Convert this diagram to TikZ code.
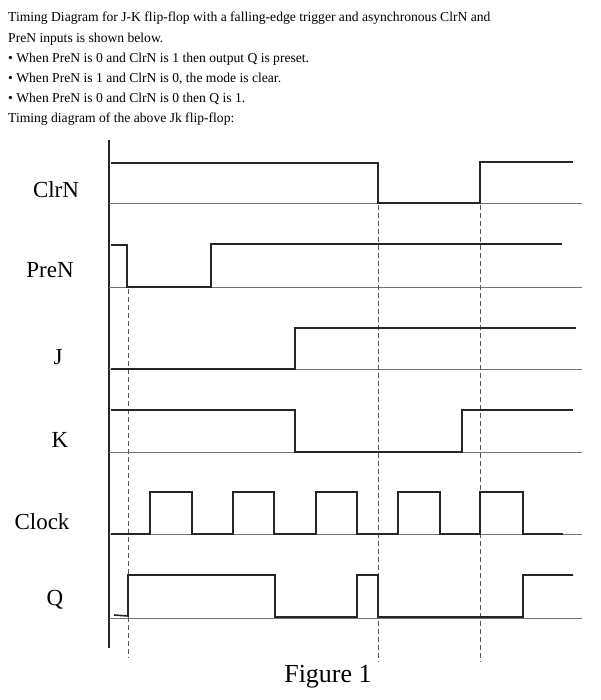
\documentclass[tikz,border=0pt]{standalone}
\usepackage{fontspec}
\setmainfont{Liberation Serif}
\begin{document}
\begin{tikzpicture}[x=1pt,y=-1pt,
  txt/.style={anchor=west,inner sep=0pt,font=\fontsize{13.6}{15}\selectfont},
  lbl/.style={inner sep=0pt,font=\fontsize{23}{26}\selectfont},
  wave/.style={line width=1.6pt,black!85},
  base/.style={line width=0.7pt,black!55},
  guide/.style={line width=0.9pt,black!65,dash pattern=on 5pt off 3pt}]
\useasboundingbox (0,0) rectangle (601,700);
\node[txt] (t1) at (8,18) {Timing Diagram for J-K flip-flop with a falling-edge trigger and asynchronous ClrN and};
\node[txt] (t2) at (8,39) {PreN inputs is shown below.};
\node[txt] (t3) at (8,59) {\textbullet\ When PreN is 0 and ClrN is 1 then output Q is preset.};
\node[txt] (t4) at (8,79) {\textbullet\ When PreN is 1 and ClrN is 0, the mode is clear.};
\node[txt] (t5) at (8,99) {\textbullet\ When PreN is 0 and ClrN is 0 then Q is 1.};
\node[txt] (t6) at (8,119) {Timing diagram of the above Jk flip-flop:};
% labels
\node[lbl] (lc) at (56,190) {ClrN};
\node[lbl] (lp) at (50,270) {PreN};
\node[lbl] (lj) at (58,357) {J};
\node[lbl] (lk) at (60,440) {K};
\node[lbl] (lclk) at (42,522) {Clock};
\node[lbl] (lq) at (55,600) {Q};
\node[inner sep=0pt,font=\fontsize{26}{29}\selectfont] (fig) at (328,677) {Figure 1};
% axis
\draw[line width=1.5pt,black!85] (109,140) -- (109,648);
% baselines
\foreach \y in {203,287,369,452,534,618} \draw[base] (109,\y) -- (582,\y);
% guides
\draw[guide] (128,289) -- (128,658);
\draw[guide] (378,205) -- (378,662);
\draw[guide] (480,205) -- (480,662);
% waves
\draw[wave] (111,163) -- (378,163) -- (378,203) -- (480,203) -- (480,162) -- (573,162);
\draw[wave] (111,245) -- (127,245) -- (127,287) -- (211,287) -- (211,244) -- (562,244);
\draw[wave] (111,369) -- (295,369) -- (295,328) -- (576,328);
\draw[wave] (111,410) -- (295,410) -- (295,452) -- (462,452) -- (462,410) -- (573,410);
\draw[wave] (111,534) -- (150,534) -- (150,492) -- (192,492) -- (192,534) -- (233,534) -- (233,492) -- (274,492) -- (274,534) -- (316,534) -- (316,492) -- (357,492) -- (357,534) -- (398,534) -- (398,492) -- (440,492) -- (440,534) -- (480,534) -- (480,492) -- (523,492) -- (523,534) -- (563,534);
\draw[wave] (114,615) -- (128,616) -- (128,575) -- (275,575) -- (275,617) -- (357,617) -- (357,575) -- (378,575) -- (378,617) -- (523,617) -- (523,575) -- (573,575);
\end{tikzpicture}
\end{document}
